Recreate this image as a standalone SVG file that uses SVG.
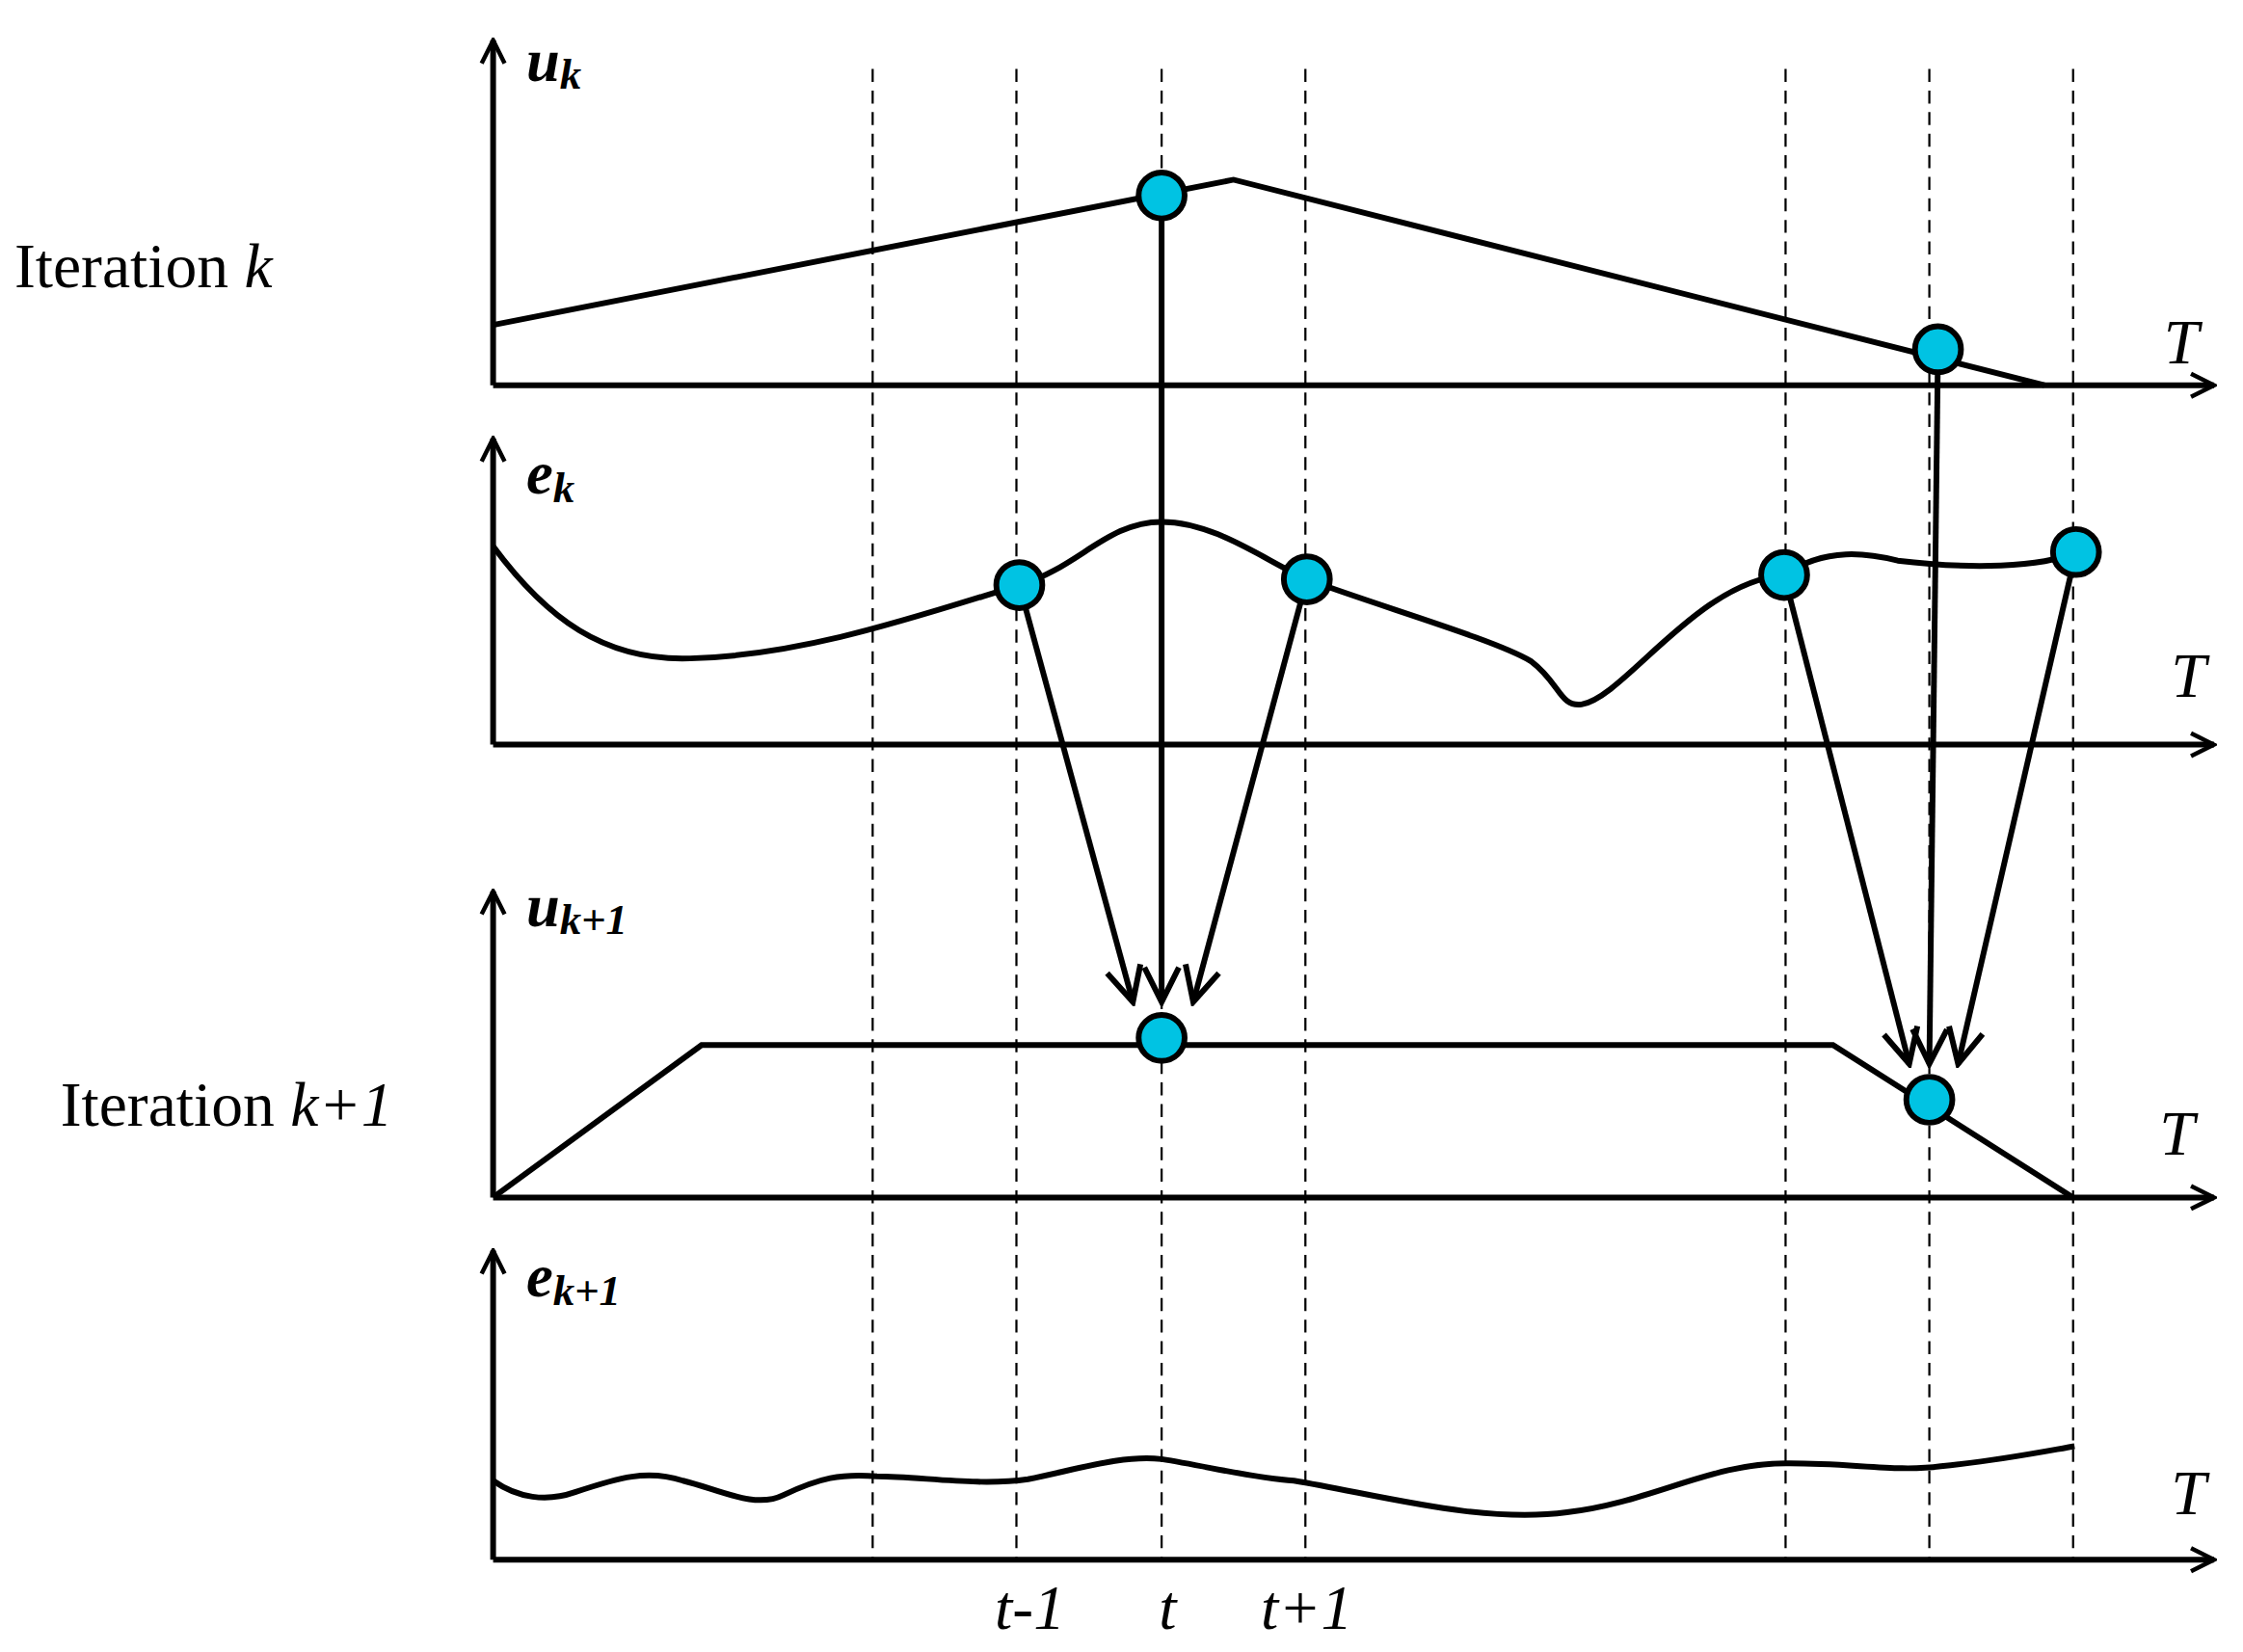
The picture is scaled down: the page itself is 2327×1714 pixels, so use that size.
<svg xmlns="http://www.w3.org/2000/svg" width="2327" height="1714" viewBox="0 0 2327 1714">
<defs>
<marker id="ah" viewBox="0 0 20 20" refX="18" refY="10" markerWidth="20" markerHeight="20" markerUnits="userSpaceOnUse" orient="auto"><path d="M2,2 L18,10 L2,18" fill="none" stroke="#000" stroke-width="3"/></marker>
<marker id="ah2" viewBox="0 0 30 30" refX="27" refY="15" markerWidth="30" markerHeight="30" markerUnits="userSpaceOnUse" orient="auto"><path d="M3,3 L27,15 L3,27" fill="none" stroke="#000" stroke-width="4"/></marker>
</defs>
<style>
.ax{stroke:#000;stroke-width:4;fill:none}
.cv{stroke:#000;stroke-width:4;fill:none}
.ds{stroke:#000;stroke-width:1.5;stroke-dasharray:9 6;fill:none}
.dot{fill:#00c3e3;stroke:#000;stroke-width:4}
.ar{stroke:#000;stroke-width:4;fill:none}
.lb{font-family:"Liberation Serif",serif;font-size:44px}
.it{font-family:"Liberation Serif",serif;font-size:44px;font-style:italic}
.vb{font-family:"Liberation Serif",serif;font-weight:bold;font-style:italic;font-size:42px}
.sb{font-size:30px}
</style>
<rect width="2327" height="1714" fill="#fff"/>
<g transform="scale(1.4915)">
<g id="grid">
<line class="ds" x1="607" y1="48" x2="607" y2="1085"/>
<line class="ds" x1="707" y1="48" x2="707" y2="1085"/>
<line class="ds" x1="808" y1="48" x2="808" y2="1085"/>
<line class="ds" x1="908" y1="48" x2="908" y2="1085"/>
<line class="ds" x1="1242" y1="48" x2="1242" y2="1085"/>
<line class="ds" x1="1342" y1="48" x2="1342" y2="1085"/>
<line class="ds" x1="1442" y1="48" x2="1442" y2="1085"/>
</g>
<g id="axes">
<path class="ax" d="M343,268 V28" marker-end="url(#ah)"/><path class="ax" d="M343,268 H1540" marker-end="url(#ah)"/>
<path class="ax" d="M343,518 V305" marker-end="url(#ah)"/><path class="ax" d="M343,518 H1540" marker-end="url(#ah)"/>
<path class="ax" d="M343,833 V620" marker-end="url(#ah)"/><path class="ax" d="M343,833 H1540" marker-end="url(#ah)"/>
<path class="ax" d="M343,1085 V870" marker-end="url(#ah)"/><path class="ax" d="M343,1085 H1540" marker-end="url(#ah)"/>
</g>
<g id="curves">
<path class="cv" d="M343,226 L858,125 L1422,268"/>
<path class="cv" d="M343,380 C380,430 420,460 480,458 C560,456 640,428 709,407 C750,395 770,363 808,363 C845,363 880,390 909,403 C960,422 1040,445 1065,460 C1085,475 1085,492 1100,490 C1130,485 1180,405 1241,400 C1270,380 1300,385 1320,390 C1370,396 1420,395 1444,384"/>
<path class="cv" d="M343,833 L488,727 L1275,727 L1442,833"/>
<path class="cv" d="M343,1030 C360,1042 380,1045 400,1038 C430,1028 450,1022 475,1030 C500,1036 525,1050 545,1040 C570,1028 585,1025 610,1027 C640,1027 680,1034 715,1029 C750,1022 780,1012 808,1015 C840,1020 870,1028 900,1030 C960,1040 1030,1060 1090,1052 C1150,1045 1190,1017 1245,1018 C1290,1018 1320,1024 1350,1020 C1390,1016 1420,1010 1443,1006"/>
</g>
<g id="connectors">
<line class="ar" x1="709" y1="407" x2="788" y2="697" marker-end="url(#ah2)"/>
<line class="ar" x1="808" y1="136" x2="808" y2="697" marker-end="url(#ah2)"/>
<line class="ar" x1="909" y1="403" x2="830" y2="697" marker-end="url(#ah2)"/>
<line class="ar" x1="1241" y1="400" x2="1328" y2="740" marker-end="url(#ah2)"/>
<line class="ar" x1="1348" y1="243" x2="1342" y2="740" marker-end="url(#ah2)"/>
<line class="ar" x1="1444" y1="384" x2="1362" y2="740" marker-end="url(#ah2)"/>
</g>
<g id="dots">
<circle class="dot" cx="808" cy="136" r="16"/>
<circle class="dot" cx="1348" cy="243" r="16"/>
<circle class="dot" cx="709" cy="407" r="16"/>
<circle class="dot" cx="909" cy="403" r="16"/>
<circle class="dot" cx="1241" cy="400" r="16"/>
<circle class="dot" cx="1444" cy="384" r="16"/>
<circle class="dot" cx="808" cy="722" r="16"/>
<circle class="dot" cx="1342" cy="765" r="16"/>
</g>
<g id="labels">
<text class="lb" x="10" y="200">Iteration <tspan font-style="italic">k</tspan></text>
<text class="lb" x="42" y="783">Iteration <tspan font-style="italic">k+1</tspan></text>
<text class="vb" x="366" y="56">u<tspan class="sb" dy="6">k</tspan></text>
<text class="vb" x="366" y="343">e<tspan class="sb" dy="6">k</tspan></text>
<text class="vb" x="366" y="644">u<tspan class="sb" dy="6">k+1</tspan></text>
<text class="vb" x="366" y="902">e<tspan class="sb" dy="6">k+1</tspan></text>
<text class="it" x="1505" y="253">T</text>
<text class="it" x="1510" y="485">T</text>
<text class="it" x="1502" y="803">T</text>
<text class="it" x="1510" y="1053">T</text>
<text class="it" x="692" y="1133">t-1</text>
<text class="it" x="806" y="1133">t</text>
<text class="it" x="877" y="1133">t+1</text>
</g>
</g>
</svg>
